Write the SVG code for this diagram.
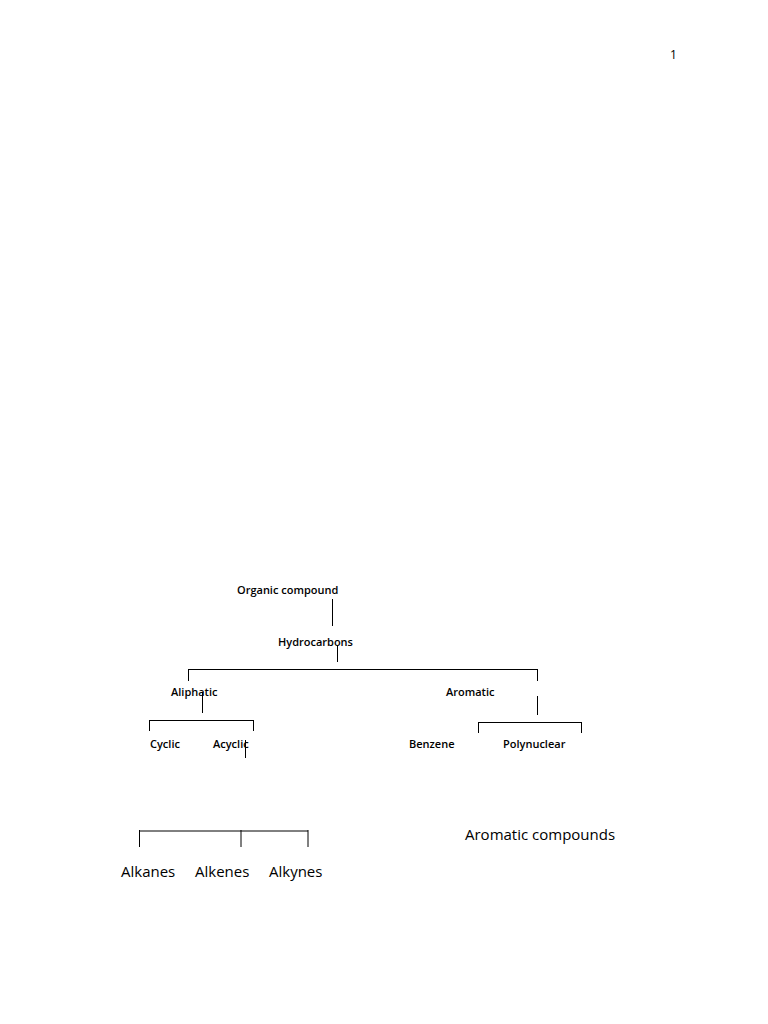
<svg xmlns="http://www.w3.org/2000/svg" width="768" height="1024" viewBox="0 0 768 1024">
<style>
text{font-family:"Open Sans","Liberation Sans",sans-serif;fill:#000}
.s{font-size:11px;font-weight:600}
.b{font-size:15px}
line{stroke:#000;stroke-width:1}
</style>
<rect width="768" height="1024" fill="#fff"/>
<text x="670" y="59" font-size="12">1</text>
<g id="connectors">
<line x1="332.5" y1="599" x2="332.5" y2="626"/>
<line x1="337.5" y1="645" x2="337.5" y2="662"/>
<line x1="188" y1="669.5" x2="537" y2="669.5"/>
<line x1="188.5" y1="669" x2="188.5" y2="681"/>
<line x1="537.5" y1="669" x2="537.5" y2="681"/>
<line x1="202.5" y1="693" x2="202.5" y2="713"/>
<line x1="537.5" y1="696" x2="537.5" y2="715"/>
<line x1="149" y1="720.5" x2="253" y2="720.5"/>
<line x1="149.5" y1="720" x2="149.5" y2="731"/>
<line x1="253.5" y1="720" x2="253.5" y2="731"/>
<line x1="245.5" y1="740" x2="245.5" y2="758"/>
<line x1="478" y1="722.5" x2="582" y2="722.5"/>
<line x1="478.5" y1="722" x2="478.5" y2="733"/>
<line x1="581.5" y1="722" x2="581.5" y2="733"/>
<line x1="139" y1="831" x2="308" y2="831" stroke-width="1.5"/>
<line x1="139.5" y1="830" x2="139.5" y2="847" stroke-width="1.5"/>
<line x1="241" y1="830" x2="241" y2="847" stroke-width="1.5"/>
<line x1="308" y1="830" x2="308" y2="847" stroke-width="1.5"/>
</g>
<g id="organic"><text class="s" x="237" y="594">Organic compound</text></g>
<g id="hydrocarbons"><text class="s" x="278" y="646">Hydrocarbons</text></g>
<g id="aliphatic"><text class="s" x="171" y="696">Aliphatic</text></g>
<g id="aromatic"><text class="s" x="446" y="696">Aromatic</text></g>
<g id="cyclic"><text class="s" x="150" y="748">Cyclic</text></g>
<g id="acyclic"><text class="s" x="213" y="748">Acyclic</text></g>
<g id="benzene"><text class="s" x="409" y="748">Benzene</text></g>
<g id="polynuclear"><text class="s" x="503" y="748">Polynuclear</text></g>
<g id="alkanes"><text class="b" x="121" y="877">Alkanes</text></g>
<g id="alkenes"><text class="b" x="195" y="877">Alkenes</text></g>
<g id="alkynes"><text class="b" x="269" y="877">Alkynes</text></g>
<g id="aromatic-compounds"><text class="b" x="465" y="840">Aromatic compounds</text></g>
</svg>
